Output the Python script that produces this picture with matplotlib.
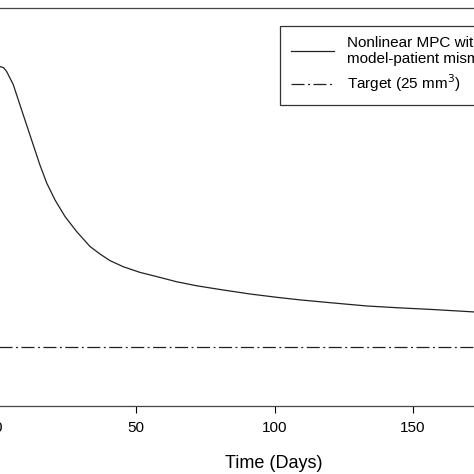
import numpy as np
import matplotlib.pyplot as plt

plt.rcParams['font.family'] = ['Liberation Sans', 'DejaVu Sans']
plt.rcParams['lines.scale_dashes'] = False

# tumour volume (mm^3)
days = [0, 0.9, 2.2, 3.3, 5.7, 8.1, 10.5, 12.9, 15.3, 17.8, 20.8, 24.4, 28.6, 33.4, 37.0,
        40.6, 45.4, 51.4, 57.5, 64.7, 71.9, 81.5, 91.2, 100.8, 109.2, 121.1, 133.4,
        145.3, 157.2, 171.7, 180]
volume = [144.3, 144.1, 143.6, 142.0, 136.4, 127.8, 119.3, 110.8, 102.3, 94.5, 87.3, 80.3,
          73.9, 67.6, 64.4, 61.6, 59.0, 56.6, 54.8, 52.6, 50.9, 49.1, 47.4, 46.0, 44.9,
          43.6, 42.3, 41.5, 40.8, 39.8, 39.5]
target = 25
xticks = [0, 50, 100, 150]

fig = plt.figure(figsize=(4.74, 4.74), dpi=100)
ax = fig.add_axes([-2.5 / 474, 68.5 / 474, 498.6 / 474, 398 / 474])

ax.plot(days, volume, color='#222222', lw=0.9, solid_joinstyle='round',
        label='Nonlinear MPC with\nmodel-patient mismatch')
ax.plot([0, 180], [target, target], color='#222222', lw=0.9,
        dashes=(9.4, 2.5, 1.4, 2.5), label='Target (25 mm$^3$)')

ax.set_xlim(0, 180)
ax.set_ylim(0, 169.2)
ax.set_xticks(xticks)
ax.set_xticklabels([str(t) for t in xticks], fontsize=11)
ax.tick_params(axis='x', direction='out', length=5, width=0.8, pad=6)
ax.tick_params(axis='y', length=0, labelleft=False)
for s in ax.spines.values():
    s.set_color('#444444')
    s.set_linewidth(0.9)
ax.set_xlabel('Time (Days)', fontsize=13)
ax.xaxis.label.set_va('baseline')
ax.xaxis.set_label_coords(0.5545, -0.1578)

leg = ax.legend(loc='upper left', bbox_to_anchor=(280.2 / 474, 1 - 25.5 / 474),
                bbox_transform=fig.transFigure, fontsize=11, fancybox=False,
                edgecolor='#333333', framealpha=1, handlelength=2.8,
                borderpad=0.7, borderaxespad=0, labelspacing=0.4, handletextpad=0.85)
leg.get_frame().set_linewidth(0.9)

fig.savefig('out.png', dpi=100)
